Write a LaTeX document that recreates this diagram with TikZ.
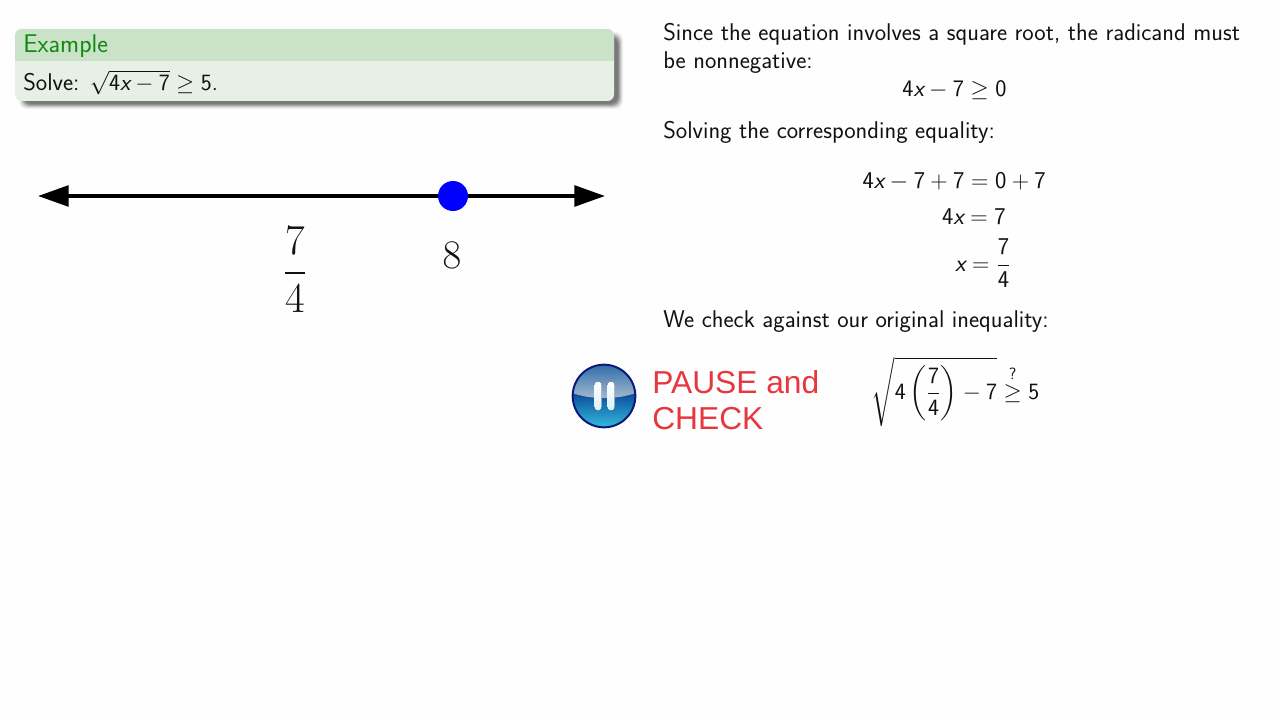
\RequirePackage{fix-cm}
\documentclass[tikz,border=0pt]{standalone}
\usepackage{amsmath}
\usepackage{fontspec}
\setsansfont{Latin Modern Sans}
\setmainfont{Latin Modern Sans}
\newfontfamily\pausefont{Liberation Sans}
\usetikzlibrary{arrows.meta,calc}
\definecolor{pagebg}{HTML}{FDFEFD}
\definecolor{headbg}{HTML}{CAE3C8}
\definecolor{bodybg}{HTML}{E6F0E5}
\definecolor{exgreen}{HTML}{0F8A0F}
\definecolor{pausered}{HTML}{E8363F}
\definecolor{inktext}{HTML}{111111}
\definecolor{btntop}{HTML}{2F6CA8}
\definecolor{btnmid}{HTML}{0B4F9E}
\definecolor{btnlow}{HTML}{35BDDD}
\definecolor{glosslow}{HTML}{A9BDD2}
\definecolor{btnrim}{HTML}{0A1A78}
\newcommand{\mx}{\text{\sffamily\itshape x}}
\newcommand{\dg}[1]{\mathsf{#1}}
\tikzset{
  x=0.75pt,y=-0.75pt,
  bodytext/.style={anchor=base west,inner sep=0pt,text=inktext,font=\fontsize{18.15}{22}\selectfont\sffamily},
  mathtext/.style={anchor=base,inner sep=0pt,text=inktext,font=\fontsize{17.75}{22}\selectfont\sffamily},
  eqtext/.style={anchor=base east,inner sep=0pt,text=inktext,font=\fontsize{18.05}{22}\selectfont\sffamily},
  numlabel/.style={anchor=center,inner sep=0pt,text=inktext},
  pausetext/.style={anchor=base west,inner sep=0pt,text=pausered,font=\fontsize{23.8}{27}\selectfont\pausefont},
  numline/.style={line width=2.8pt,{Triangle[length=23pt,width=15.5pt]}-{Triangle[length=23pt,width=15.5pt]}},
}
\begin{document}
\begin{tikzpicture}
\useasboundingbox (0,0) rectangle (1280,720);
\fill[pagebg] (0,0) rectangle (1280,720);
% block shadow
\foreach \o/\c in {5/6,4/12,3/22,2/34,1/44,0/52}{
  \fill[black!\c!pagebg,rounded corners=6pt] ($(24-\o,37-\o)$) rectangle ($(618+\o,104+\o)$);
}
\fill[bodybg,rounded corners=5pt] (15,29) rectangle (614,101);
\begin{scope}
\clip[rounded corners=5pt] (15,29) rectangle (614,101);
\fill[headbg] (15,29) rectangle (614,61);
\end{scope}
\node[bodytext,text=exgreen,font=\fontsize{19.2}{22}\selectfont\sffamily] (extitle) at (23,52.5) {Example};
\node[bodytext] (exbody) at (23,90.7) {Solve:};
\node[mathtext,anchor=base west,font=\fontsize{17.5}{22}\selectfont\sffamily] (exmath) at (89.5,90.7) {$\sqrt{\dg{4}\mx-\dg{7}}\geq\dg{5}$.};
% number line
\coordinate (lineL) at (38,196);
\coordinate (lineR) at (605,196);
\draw[numline] (lineL) -- (lineR);
\node[circle,fill=blue,minimum size=22.5pt,inner sep=0pt] (pt8) at (453,196) {};
\node[numlabel,font=\fontsize{32}{38}\selectfont] (lab74) at (295,270) {$\genfrac{}{}{1.3pt}{0}{7}{4}$};
\node[numlabel,font=\fontsize{30.5}{38}\selectfont] (lab8) at (452,255) {$8$};
% right column
\node[bodytext] (t1) at (663,40.7) {Since the equation involves a square root, the radicand must};
\node[bodytext] (t2) at (663,68.7) {be nonnegative:};
\node[mathtext] (m1) at (954.5,97) {$\dg{4}\mx-\dg{7}\geq\dg{0}$};
\node[bodytext] (t3) at (663,138.7) {Solving the corresponding equality:};
\node[eqtext] (m2a) at (1046,189) {$\dg{4}\mx-\dg{7}+\dg{7}=\dg{0}+\dg{7}$};
\node[eqtext] (m2b) at (1006,224) {$\dg{4}\mx=\dg{7}$};
\node[eqtext] (m2c) at (1011,271) {$\mx=\dfrac{\dg{7}}{\dg{4}}$};
\node[bodytext] (t4) at (663,327.3) {We check against our original inequality:};
\node[mathtext,font=\fontsize{17.5}{21}\selectfont\sffamily] (m3) at (955.5,399) {$\sqrt{\dg{4}\left(\dfrac{\dg{7}}{\dg{4}}\right)-\dg{7}}\overset{\text{\sffamily ?}}{\geq}\dg{5}$};
% pause button
\coordinate (pc) at (604,396);
\begin{scope}
\clip (pc) circle[radius=23.5pt];
\fill[top color=btnmid,bottom color=btnlow] ($(pc)+(-32,-2)$) rectangle ($(pc)+(32,32)$);
\fill[top color=btntop,bottom color=glosslow]
  ($(pc)+(-32,-32)$) -- ($(pc)+(32,-32)$) -- ($(pc)+(32,-3)$)
  .. controls ($(pc)+(12,4)$) and ($(pc)+(-12,4)$) .. ($(pc)+(-32,-3)$) -- cycle;
\end{scope}
\draw[draw=btnrim,line width=1.5pt] (pc) circle[radius=23.5pt];
\fill[top color=white,bottom color=white!80!btnlow,rounded corners=2.6pt] (594.5,381.5) rectangle (601.5,410.5);
\fill[top color=white,bottom color=white!80!btnlow,rounded corners=2.6pt] (607.5,381.5) rectangle (614.5,410.5);
\node[pausetext] (p1) at (652,393) {PAUSE and};
\node[pausetext] (p2) at (652,429) {CHECK};
\end{tikzpicture}
\end{document}
